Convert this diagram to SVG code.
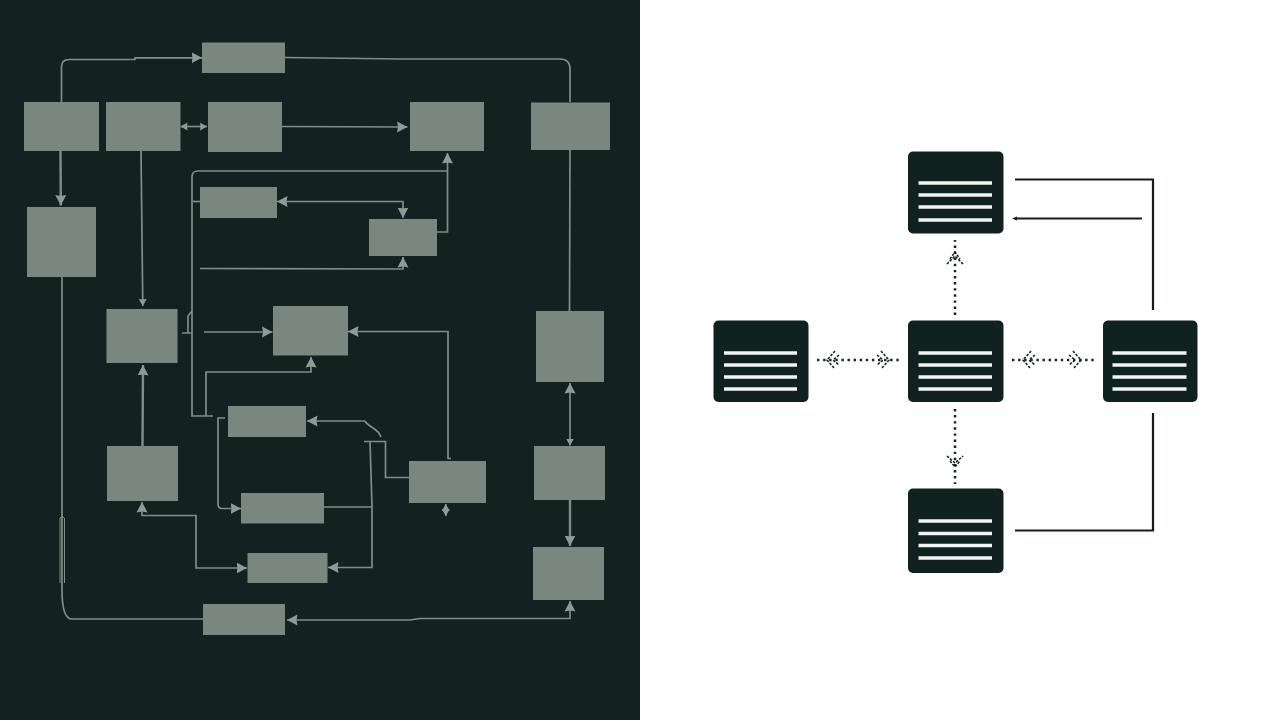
<svg xmlns="http://www.w3.org/2000/svg" width="1280" height="720" viewBox="0 0 1280 720">
<style>
.box{fill:#7a8680}
.ln{fill:none;stroke:#808d88;stroke-width:1.7}
.th{stroke-width:2.4}
.thin{stroke-width:1}
.card{fill:#102120}
.bar{stroke:#f0f5f2;stroke-width:3.6;fill:none}
.solid{fill:none;stroke:#141c1c;stroke-width:2.2}
.dot{fill:none;stroke:#1b2624;stroke-width:2.5;stroke-dasharray:2.4 3.7}
.chev{fill:none;stroke:#1b2624;stroke-width:1.6;stroke-dasharray:2.6 1.4}
</style>
<defs>
<marker id="a" markerUnits="userSpaceOnUse" markerWidth="13" markerHeight="13" refX="10.500" refY="6" orient="auto-start-reverse"><path d="M0,0.500 L10.500,6 L0,11.500 L1,6Z" fill="#8f9b96"/></marker>
<marker id="s" markerUnits="userSpaceOnUse" markerWidth="9" markerHeight="9" refX="7" refY="4" orient="auto-start-reverse"><path d="M0,0 L7,4 L0,8 L0.500,4Z" fill="#8f9b96"/></marker>
</defs>
<rect id="panel-left" x="0" y="0" width="640" height="720" fill="#132120"/>
<rect id="panel-right" x="640" y="0" width="640" height="720" fill="#ffffff"/>
<g id="connectors">
<path class="ln" marker-end="url(#a)" d="M61.500,102V67Q61.500,59.500 69,59.500H135V57.800H202"/>
<path class="ln" d="M285,57.500L400,59H560Q570,59 570,69V102"/>
<path class="ln th" marker-end="url(#a)" d="M60.500,151L60.800,205.500"/>
<path class="ln" marker-start="url(#s)" marker-end="url(#s)" d="M180.500,126.500H207"/>
<path class="ln" marker-end="url(#a)" d="M282,126.500L407.500,127"/>
<path class="ln" marker-end="url(#s)" d="M141,151L142.800,306"/>
<path class="ln" d="M447,171H198Q192,171 192,177V311L188,316V333M182,333H192M192,311V416H213"/>
<path class="ln" d="M193,201.500H200"/>
<path class="ln" marker-end="url(#a)" d="M437,232H447.500V153"/>
<path class="ln" marker-start="url(#a)" marker-end="url(#a)" d="M277,201.500H403V218"/>
<path class="ln" marker-end="url(#a)" d="M200,268.500L403,269V257"/>
<path class="ln" marker-end="url(#a)" d="M204,332H272.500"/>
<path class="ln" marker-end="url(#a)" d="M206,416V372H311V357"/>
<path class="ln th" marker-end="url(#a)" d="M142.500,446L143,365"/>
<path class="ln" marker-end="url(#a)" d="M225,418H218V504Q218,508.500 222,508.500H241"/>
<path class="ln" marker-start="url(#a)" marker-end="url(#a)" d="M142,502V515.500H196V568H247"/>
<path class="ln" d="M203,619H72Q62,619 62,590V277"/>
<path class="ln thin" d="M60,583V518Q62,515 64.500,518V583"/>
<path class="ln" marker-start="url(#a)" marker-end="url(#a)" d="M287,620H410L420,618.500H570V601"/>
<path class="ln" d="M570,150L569.500,311"/>
<path class="ln" marker-start="url(#a)" marker-end="url(#s)" d="M570,383V445.500"/>
<path class="ln th" marker-end="url(#a)" d="M570,500V546"/>
<path class="ln" marker-end="url(#a)" d="M365,421H307"/>
<path class="ln" d="M365,421C369,428 378,428 381,437M364,441.500H385.500V477.500H409"/>
<path class="ln" marker-end="url(#a)" d="M370,441.500L372,506V567.500H328"/>
<path class="ln" d="M324,507H372"/>
<path class="ln" marker-end="url(#a)" d="M448,459V331.500H348"/>
<path class="ln" d="M448,458.500H451"/>
<path class="ln" marker-start="url(#s)" marker-end="url(#s)" d="M445.800,504V516"/>
<path class="solid" d="M1015,179.500H1153V310"/>
<path class="solid" d="M1015,218.500H1142"/>
<path d="M1012,218.500L1017,216.500V220.500Z" fill="#141c1c"/>
<path class="solid" d="M1153,413V530.500H1015"/>
<path class="dot" d="M817,360H902"/>
<path class="dot" d="M1012,360H1096"/>
<path class="dot" d="M955,315V240"/>
<path class="dot" d="M955,409V484"/>
<path class="chev" d="M835,351L827,360L835,369M839,355L833,360L839,365"/>
<path class="chev" d="M881,351L889,360L881,369M877,355L883,360L877,365"/>
<path class="chev" d="M1031,351L1023,360L1031,369M1035,355L1029,360L1035,365"/>
<path class="chev" d="M1073,351L1081,360L1073,369M1069,355L1075,360L1069,365"/>
<path class="chev" d="M947,264L955,256L963,264M950,259L955,252L960,259"/>
<path class="chev" d="M947,456L955,463L963,456M950,461L955,467L960,461"/>
</g>
<g id="n1"><rect class="box" x="202" y="42.500" width="83" height="30.500"/></g>
<g id="n2"><rect class="box" x="24" y="102" width="75" height="49"/></g>
<g id="n3"><rect class="box" x="106" y="102" width="74.500" height="49"/></g>
<g id="n4"><rect class="box" x="208" y="102" width="74" height="50"/></g>
<g id="n5"><rect class="box" x="410" y="102" width="74" height="49"/></g>
<g id="n6"><rect class="box" x="531" y="102.500" width="79" height="47.500"/></g>
<g id="n7"><rect class="box" x="27" y="207" width="69" height="70"/></g>
<g id="n8"><rect class="box" x="200" y="187" width="77" height="31"/></g>
<g id="n9"><rect class="box" x="369" y="219" width="68" height="37"/></g>
<g id="n10"><rect class="box" x="106.500" y="309" width="71" height="54"/></g>
<g id="n11"><rect class="box" x="273" y="306" width="75" height="49.500"/></g>
<g id="n12"><rect class="box" x="228" y="406" width="78" height="31"/></g>
<g id="n13"><rect class="box" x="107" y="446" width="71" height="55"/></g>
<g id="n14"><rect class="box" x="241" y="493" width="83" height="30.500"/></g>
<g id="n15"><rect class="box" x="247.500" y="553" width="80" height="30"/></g>
<g id="n16"><rect class="box" x="203" y="604" width="82" height="31"/></g>
<g id="n17"><rect class="box" x="409" y="461" width="77" height="42"/></g>
<g id="n18"><rect class="box" x="536" y="311" width="68" height="71"/></g>
<g id="n19"><rect class="box" x="534" y="446" width="71" height="54"/></g>
<g id="n20"><rect class="box" x="533" y="547" width="71" height="53"/></g>
<g id="card-top"><rect class="card" x="908" y="151.500" width="95.500" height="82" rx="5"/><path class="bar" d="M918.500,183H992M918.500,195H992M918.500,207H992M918.500,220H992"/></g>
<g id="card-center"><rect class="card" x="908" y="320.500" width="95.500" height="81.500" rx="5"/><path class="bar" d="M918.500,353H992M918.500,365H992M918.500,377H992M918.500,389H992"/></g>
<g id="card-left"><rect class="card" x="713.500" y="320.500" width="95" height="81.500" rx="5"/><path class="bar" d="M724,353H797M724,365H797M724,377H797M724,389H797"/></g>
<g id="card-right"><rect class="card" x="1103" y="320.500" width="94.500" height="81.500" rx="5"/><path class="bar" d="M1112.500,353H1186.500M1112.500,365H1186.500M1112.500,377H1186.500M1112.500,389H1186.500"/></g>
<g id="card-bottom"><rect class="card" x="908" y="488.500" width="95.500" height="84.500" rx="5"/><path class="bar" d="M918.500,521H992M918.500,533.500H992M918.500,545.500H992M918.500,558H992"/></g>
</svg>
